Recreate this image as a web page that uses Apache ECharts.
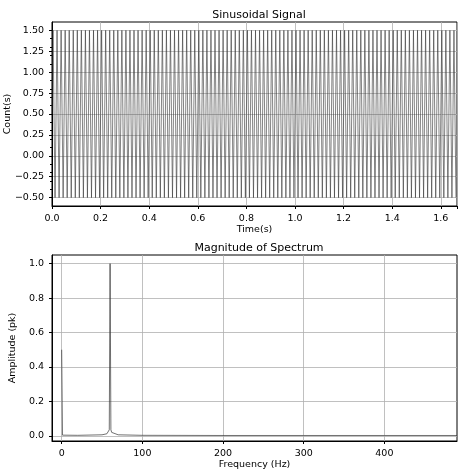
<!DOCTYPE html>
<html><head><meta charset="utf-8">
<script src="https://cdn.jsdelivr.net/npm/echarts@6/dist/echarts.min.js"></script>
<style>html,body{margin:0;background:#fff}#c{width:474px;height:474px}</style>
</head><body><div id="c"></div>
<script>
// one period of the signal (peak 1.5, trough -0.5)
var cycleValues = [0.5, 1.5, 0.5, -0.5];
var cycleCount = 100;
var sampleStep = 1 / 240;
// spectrum points
var specFreq = [0, 1, 20, 50, 56, 58, 59, 60, 61, 62, 64, 70, 100, 200, 300, 400, 490];
var specAmp  = [0.5, 0.004, 0.003, 0.006, 0.012, 0.02, 0.035, 1.0, 0.035, 0.02, 0.012, 0.006, 0.003, 0.002, 0.002, 0.002, 0.002];

var signal = [];
for (var k = 0; k < cycleCount; k++) {
  for (var j = 0; j < cycleValues.length; j++) {
    var i = k * cycleValues.length + j;
    signal.push([i * sampleStep, cycleValues[j]]);
  }
}
var spectrum = specFreq.map(function (f, i) { return [f, specAmp[i]]; });

var font = 'DejaVu Sans';
var fs = 9.5;
var txt = {color: '#000', fontFamily: font, fontSize: fs};
function axisBase(extra) {
  var o = {
    axisLine: {show: true, onZero: false, lineStyle: {color: '#000'}},
    axisTick: {show: true, inside: false, length: 3, lineStyle: {color: '#000'}},
    axisLabel: txt,
    splitLine: {show: true, lineStyle: {color: '#b0b0b0', width: 0.8}},
    nameTextStyle: txt,
    nameLocation: 'middle'
  };
  for (var k in extra) o[k] = extra[k];
  return o;
}

var chart = echarts.init(document.getElementById('c'));
chart.setOption({
  animation: false,
  title: [
    {text: 'Sinusoidal Signal', left: 254, top: 5, textAlign: 'center', textStyle: {fontFamily: font, fontSize: 11, fontWeight: 'normal', color: '#000'}},
    {text: 'Magnitude of Spectrum', left: 254, top: 238, textAlign: 'center', textStyle: {fontFamily: font, fontSize: 11, fontWeight: 'normal', color: '#000'}}
  ],
  graphic: [
    {type: 'text', x: 8, y: 114, rotation: Math.PI / 2, style: {text: 'Count(s)', fill: '#000', font: fs + 'px "DejaVu Sans"', align: 'center', verticalAlign: 'middle'}}
  ],
  grid: [
    {left: 52, right: 17, top: 22, height: 184, show: true, borderColor: '#000', borderWidth: 1, outerBoundsMode: 'none', containLabel: false},
    {left: 52, right: 17, top: 255, height: 186, show: true, borderColor: '#000', borderWidth: 1, outerBoundsMode: 'none', containLabel: false}
  ],
  xAxis: [
    axisBase({gridIndex: 0, type: 'value', min: 0, max: 1.6667, interval: 0.2, name: 'Time(s)', nameGap: 16,
      axisLabel: {color: '#000', fontFamily: font, fontSize: fs, formatter: function (v) { return v > 1.65 ? '' : v.toFixed(1); }}}),
    axisBase({gridIndex: 1, type: 'value', min: -12, max: 490, name: 'Frequency (Hz)', nameGap: 18,
      axisLabel: {color: '#000', fontFamily: font, fontSize: fs, customValues: [0, 100, 200, 300, 400]},
      axisTick: {show: true, length: 3, customValues: [0, 100, 200, 300, 400], lineStyle: {color: '#000'}}})
  ],
  yAxis: [
    axisBase({gridIndex: 0, type: 'value', min: -0.6, max: 1.6, name: '',
      axisLabel: {color: '#000', fontFamily: font, fontSize: fs, customValues: [-0.5, -0.25, 0, 0.25, 0.5, 0.75, 1, 1.25, 1.5], formatter: function (v) { return v.toFixed(2).replace('-', '\u2212'); }},
      axisTick: {show: true, length: 3, customValues: [-0.5, -0.25, 0, 0.25, 0.5, 0.75, 1, 1.25, 1.5], lineStyle: {color: '#000'}},
      minorTick: {show: true, splitNumber: 5, length: 2, lineStyle: {color: '#000'}}}),
    axisBase({gridIndex: 1, type: 'value', min: -0.03, max: 1.05, name: 'Amplitude (pk)', nameGap: 30,
      axisLabel: {color: '#000', fontFamily: font, fontSize: fs, customValues: [0, 0.2, 0.4, 0.6, 0.8, 1], formatter: function (v) { return v.toFixed(1); }},
      axisTick: {show: true, length: 3, customValues: [0, 0.2, 0.4, 0.6, 0.8, 1], lineStyle: {color: '#000'}}})
  ],
  series: [
    {type: 'line', xAxisIndex: 0, yAxisIndex: 0, data: signal, showSymbol: false, lineStyle: {color: '#333', width: 0.6}},
    {type: 'line', xAxisIndex: 1, yAxisIndex: 1, data: spectrum, showSymbol: false, lineStyle: {color: '#333', width: 0.7}}
  ]
});
</script></body></html>
